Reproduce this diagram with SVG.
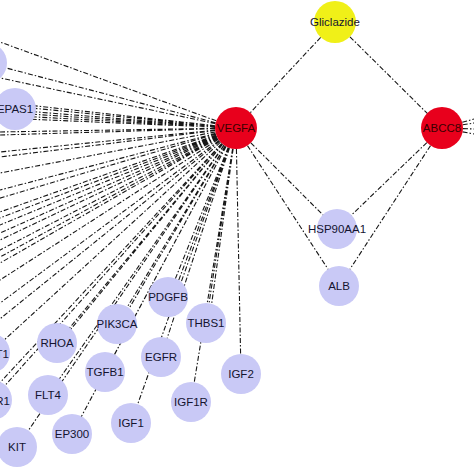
<svg xmlns="http://www.w3.org/2000/svg" width="474" height="474" viewBox="0 0 474 474">
<style>
.e{stroke:#161616;stroke-width:1.1;stroke-dasharray:5 2 1.5 2;fill:none}
.n{fill:#c9c9f6}
.r{fill:#e8001c}
.y{fill:#f0f018}
text{font-family:"Liberation Sans",Arial,sans-serif;font-size:11.5px;fill:#141430;text-anchor:middle;dominant-baseline:central}
.rt{fill:#3a0000}
</style>
<rect width="474" height="474" fill="#fff"/>
<g id="edges">
<path class="e" d="M335,22L236,128M335,22L442,128M236,128L337,229M236,128L339,286M442,128L337,229M442,128L339,286"/>
<path class="e" d="M442,128L490,114.5M442,128L490,120.5M442,128L490,129.5M442,128L490,137"/>
<path class="e" d="M236,128L-20,34.7M236,128L-13,63M236,128L-20,73.7M236,128L-20,99.8M236,128L-20,103M236,128L-20,107.4M236,128L-20,110.6M236,128L-20,113.9M236,128L-20,117.1M236,128L-20,132.3M236,128L-20,135.6M236,128L-20,154M236,128L-20,159.4M236,128L-20,176.8M236,128L-20,195.3M236,128L-20,204M236,128L-20,219.1M236,128L-20,225.6M236,128L-20,233.2M236,128L-20,241.9M236,128L-20,249.5M236,128L-20,260.4M236,128L-20,268M236,128L-20,274.5M236,128L-20,292.9M236,128L-20,317.9M236,128L-20,335"/>
<path class="e" d="M236,128L-10,353M236,128L-8,400M236,128L-30,415M236,128L17,447M236,128L48,395M236,128L57,343M236,128L62,340M236,128L72,434M236,128L105,372M236,128L117,324M236,128L121,322M236,128L131,423M236,128L161,357M236,128L168,297M236,128L172,298M236,128L191,402M236,128L206,323M236,128L209,323M236,128L241,374"/>
</g>
<g id="n-top-left"><circle class="n" cx="-13" cy="63" r="20"/></g>
<g id="n-EPAS1"><circle class="n" cx="15" cy="109" r="21"/><text x="15" y="109">EPAS1</text></g>
<g id="n-T1"><circle class="n" cx="-10" cy="353" r="20"/><text x="9" y="354" style="text-anchor:end">T1</text></g>
<g id="n-R1"><circle class="n" cx="-8" cy="400" r="20"/><text x="10" y="401" style="text-anchor:end">R1</text></g>
<g id="n-KIT"><circle class="n" cx="17" cy="447" r="20"/><text x="17" y="447">KIT</text></g>
<g id="n-FLT4"><circle class="n" cx="48" cy="395" r="20"/><text x="48" y="395">FLT4</text></g>
<g id="n-RHOA"><circle class="n" cx="57" cy="343" r="20"/><text x="57" y="343">RHOA</text></g>
<g id="n-EP300"><circle class="n" cx="72" cy="434" r="20"/><text x="72" y="434">EP300</text></g>
<g id="n-TGFB1"><circle class="n" cx="105" cy="372" r="20"/><text x="105" y="372">TGFB1</text></g>
<g id="n-PIK3CA"><circle class="n" cx="117" cy="324" r="20"/><text x="117" y="324">PIK3CA</text></g>
<g id="n-IGF1"><circle class="n" cx="131" cy="423" r="20"/><text x="131" y="423">IGF1</text></g>
<g id="n-EGFR"><circle class="n" cx="161" cy="357" r="20"/><text x="161" y="357">EGFR</text></g>
<g id="n-PDGFB"><circle class="n" cx="168" cy="297" r="20"/><text x="168" y="297">PDGFB</text></g>
<g id="n-IGF1R"><circle class="n" cx="191" cy="402" r="20"/><text x="191" y="402">IGF1R</text></g>
<g id="n-THBS1"><circle class="n" cx="206" cy="323" r="20"/><text x="206" y="323">THBS1</text></g>
<g id="n-IGF2"><circle class="n" cx="241" cy="374" r="20"/><text x="241" y="374">IGF2</text></g>
<g id="n-HSP90AA1"><circle class="n" cx="337" cy="229" r="20"/><text x="337" y="229">HSP90AA1</text></g>
<g id="n-ALB"><circle class="n" cx="339" cy="286" r="20"/><text x="339" y="286">ALB</text></g>
<g id="n-Gliclazide"><circle class="y" cx="335" cy="22" r="21"/><text x="335" y="22">Gliclazide</text></g>
<g id="n-VEGFA"><circle class="r" cx="236" cy="128" r="21"/><text class="rt" x="236" y="128">VEGFA</text></g>
<g id="n-ABCC8"><circle class="r" cx="442" cy="128" r="21"/><text class="rt" x="442" y="128">ABCC8</text></g>
</svg>
